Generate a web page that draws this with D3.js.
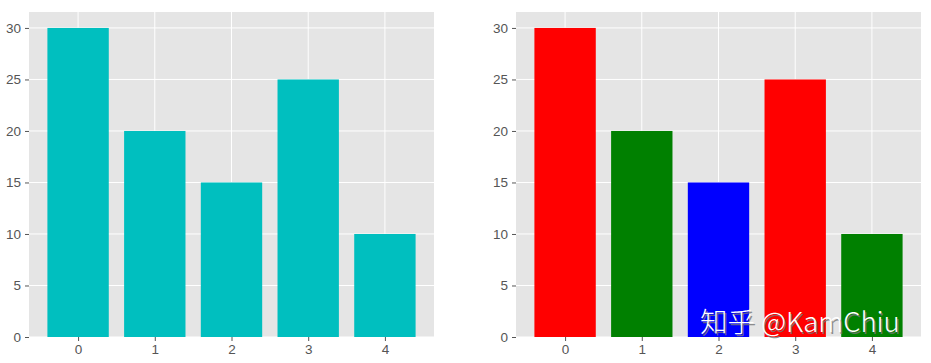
<!DOCTYPE html>
<html>
<head>
<meta charset="utf-8">
<script src="https://d3js.org/d3.v7.min.js"></script>
<style>
  body { margin: 0; background: #fff; }
  .tick text { font-family: "Liberation Sans Narrow", "Liberation Sans", Arial, sans-serif; font-stretch: condensed; font-size: 13.5px; fill: #555; }
  .tick line { stroke: #555; }
</style>
</head>
<body>
<div id="chart"></div>
<script>
const categories = [0, 1, 2, 3, 4];
const values = [30, 20, 15, 25, 10];
const leftColors = ["#00bfbf", "#00bfbf", "#00bfbf", "#00bfbf", "#00bfbf"];
const rightColors = ["#ff0000", "#008000", "#0000ff", "#ff0000", "#008000"];
const yTicks = [0, 5, 10, 15, 20, 25, 30];

const width = 931, height = 363;
const svg = d3.select("#chart").append("svg")
    .attr("width", width)
    .attr("height", height);

const panels = [
    { left: 29, colors: leftColors },
    { left: 516, colors: rightColors }
];
const panelW = 405, panelTop = 12, panelBottom = 337;

panels.forEach(p => {
    const x = d3.scaleLinear().domain([-0.64, 4.64]).range([p.left, p.left + panelW]);
    const y = d3.scaleLinear().domain([0, 31.5]).range([panelBottom, panelTop + 0.5]);

    svg.append("rect")
        .attr("x", p.left).attr("y", panelTop)
        .attr("width", panelW).attr("height", panelBottom - panelTop)
        .attr("fill", "#e5e5e5");

    svg.append("g").selectAll("line")
        .data(yTicks).enter().append("line")
        .attr("x1", p.left).attr("x2", p.left + panelW)
        .attr("y1", d => y(d)).attr("y2", d => y(d))
        .attr("stroke", "#fff").attr("stroke-width", 1);

    svg.append("g").selectAll("line")
        .data(categories).enter().append("line")
        .attr("x1", d => x(d)).attr("x2", d => x(d))
        .attr("y1", panelTop).attr("y2", panelBottom)
        .attr("stroke", "#fff").attr("stroke-width", 1);

    svg.append("g").selectAll("rect")
        .data(values).enter().append("rect")
        .attr("x", (d, i) => x(categories[i] - 0.4))
        .attr("width", (d, i) => x(categories[i] + 0.4) - x(categories[i] - 0.4))
        .attr("y", d => y(d))
        .attr("height", d => y(0) - y(d))
        .attr("fill", (d, i) => p.colors[i]);

    const xAxis = svg.append("g")
        .attr("transform", `translate(0,${panelBottom})`)
        .call(d3.axisBottom(x).tickValues(categories).tickSize(4).tickPadding(3).tickFormat(d3.format("d")));
    xAxis.select(".domain").remove();

    const yAxis = svg.append("g")
        .attr("transform", `translate(${p.left},0)`)
        .call(d3.axisLeft(y).tickValues(yTicks).tickSize(4).tickPadding(4).tickFormat(d3.format("d")));
    yAxis.select(".domain").remove();
});

// watermark
const wm = svg.append("g").attr("font-family", "'Noto Sans CJK SC', sans-serif").attr("font-size", 27.5).attr("font-weight", 300);
wm.append("text").attr("x", 701.5).attr("y", 333.5).attr("fill", "#777").attr("opacity", 0.8).text("知乎 @KamChiu");
wm.append("text").attr("x", 700).attr("y", 332).attr("fill", "#fff").text("知乎 @KamChiu");
</script>
</body>
</html>
